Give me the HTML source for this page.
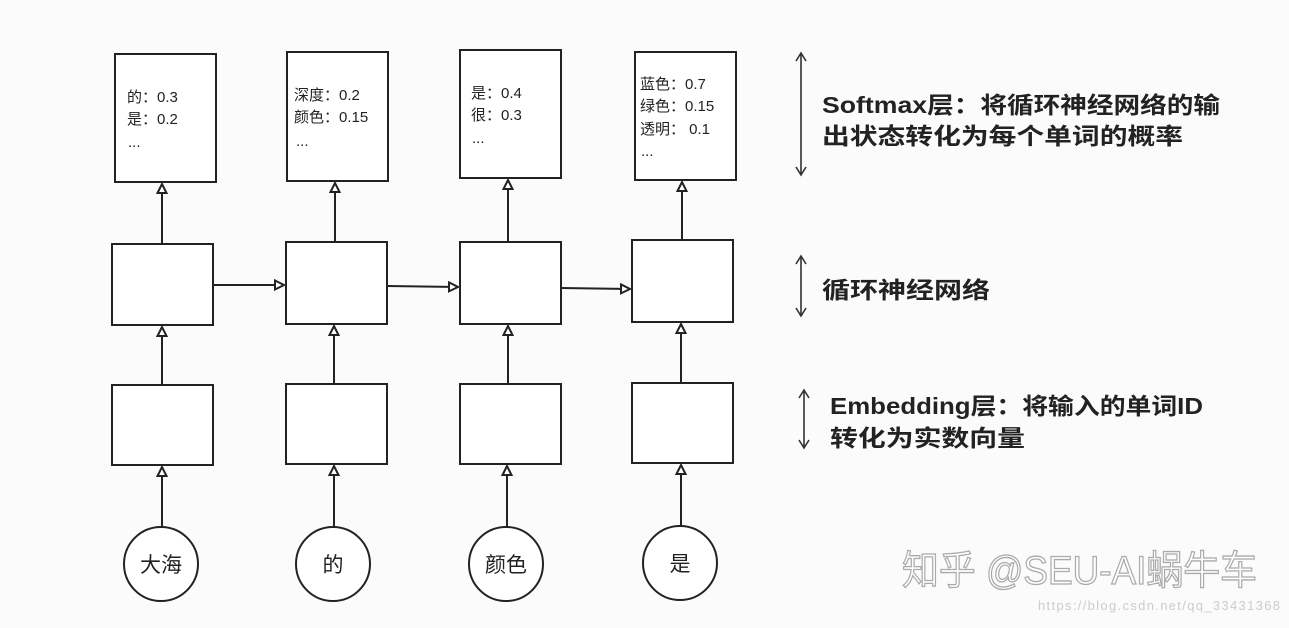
<!DOCTYPE html>
<html><head><meta charset="utf-8"><style>
body{margin:0;background:#fbfbfb;width:1289px;height:623px;overflow:hidden}
svg text{font-family:"Liberation Sans","Noto Sans CJK SC",sans-serif}
</style></head><body>
<svg width="1289" height="623" viewBox="0 0 1289 623" xmlns="http://www.w3.org/2000/svg">
<defs>
<marker id="a" markerWidth="12" markerHeight="12" refX="10" refY="6" orient="auto" markerUnits="userSpaceOnUse">
<path d="M1,1.5 L10,6 L1,10.5 Z" fill="#fff" stroke="#222" stroke-width="2"/></marker>
</defs>
<g fill="#fff" stroke="#222" stroke-width="2">
<rect x="115" y="54" width="101" height="128"/>
<rect x="287" y="52" width="101" height="129"/>
<rect x="460" y="50" width="101" height="128"/>
<rect x="635" y="52" width="101" height="128"/>
<rect x="112" y="244" width="101" height="81"/>
<rect x="286" y="242" width="101" height="82"/>
<rect x="460" y="242" width="101" height="82"/>
<rect x="632" y="240" width="101" height="82"/>
<rect x="112" y="385" width="101" height="80"/>
<rect x="286" y="384" width="101" height="80"/>
<rect x="460" y="384" width="101" height="80"/>
<rect x="632" y="383" width="101" height="80"/>
<circle cx="161" cy="564" r="37"/>
<circle cx="333" cy="564" r="37"/>
<circle cx="506" cy="564" r="37"/>
<circle cx="680" cy="563" r="37"/>
</g>
<g stroke="#222" stroke-width="2" marker-end="url(#a)">
<line x1="162" y1="244" x2="162" y2="184"/>
<line x1="335" y1="242" x2="335" y2="183"/>
<line x1="508" y1="242" x2="508" y2="180"/>
<line x1="682" y1="240" x2="682" y2="182"/>
<line x1="213" y1="285" x2="284" y2="285"/>
<line x1="387" y1="286" x2="458" y2="287"/>
<line x1="561" y1="288" x2="630" y2="289"/>
<line x1="162" y1="385" x2="162" y2="327"/>
<line x1="334" y1="384" x2="334" y2="326"/>
<line x1="508" y1="384" x2="508" y2="326"/>
<line x1="681" y1="383" x2="681" y2="324"/>
<line x1="162" y1="527" x2="162" y2="467"/>
<line x1="334" y1="527" x2="334" y2="466"/>
<line x1="507" y1="527" x2="507" y2="466"/>
<line x1="681" y1="526" x2="681" y2="465"/>
</g>
<g font-size="15" fill="#222">
<text x="127" y="102">的：0.3</text><text x="127" y="124">是：0.2</text><text x="128" y="147">...</text>
<text x="294" y="100">深度：0.2</text><text x="294" y="122">颜色：0.15</text><text x="296" y="146">...</text>
<text x="471" y="98">是：0.4</text><text x="471" y="120">很：0.3</text><text x="472" y="143">...</text>
<text x="640" y="89">蓝色：0.7</text><text x="640" y="111">绿色：0.15</text><text x="640" y="134">透明： 0.1</text><text x="641" y="156">...</text>
</g>
<g font-size="21" fill="#222" text-anchor="middle">
<text x="161" y="572">大海</text><text x="333" y="572">的</text><text x="506" y="572">颜色</text><text x="680" y="571">是</text>
</g>
<g stroke="#333" stroke-width="1.6" fill="none">
<path d="M801,53 V175 M796,61 L801,53 L806,61 M796,167 L801,175 L806,167"/>
<path d="M801,256 V316 M796,264 L801,256 L806,264 M796,308 L801,316 L806,308"/>
<path d="M804,390 V448 M799,398 L804,390 L809,398 M799,440 L804,448 L809,440"/>
</g>
<g font-size="23" font-weight="bold" fill="#222">
<text x="822" y="113" textLength="398" lengthAdjust="spacingAndGlyphs">Softmax层：将循环神经网络的输</text>
<text x="822" y="144" textLength="361" lengthAdjust="spacingAndGlyphs">出状态转化为每个单词的概率</text>
<text x="822" y="298" textLength="168" lengthAdjust="spacingAndGlyphs">循环神经网络</text>
<text x="830" y="414" textLength="373" lengthAdjust="spacingAndGlyphs">Embedding层：将输入的单词ID</text>
<text x="830" y="446" textLength="195" lengthAdjust="spacingAndGlyphs">转化为实数向量</text>
</g>
<text x="902" y="584" font-size="40" fill="#fff" stroke="#aaa" stroke-width="1.3" textLength="355" lengthAdjust="spacingAndGlyphs">知乎 @SEU-AI蜗牛车</text>
<text x="1038" y="610" font-size="13" fill="#ccc" textLength="242">https://blog.csdn.net/qq_33431368</text>
</svg>
</body></html>
